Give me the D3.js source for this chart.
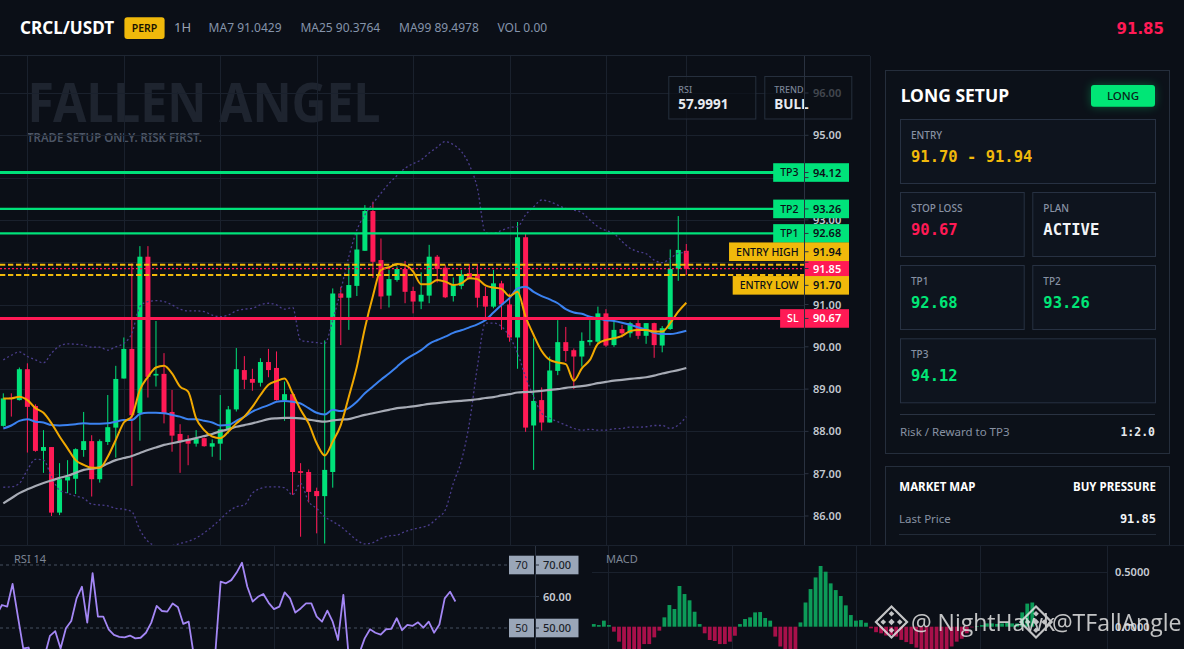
<!DOCTYPE html>
<html><head><meta charset="utf-8">
<script src="https://cdnjs.cloudflare.com/ajax/libs/d3/7.8.5/d3.min.js"></script>
<style>
html,body{margin:0;padding:0;background:#0b0f17;overflow:hidden}
svg{display:block;font-family:"Noto Sans","Open Sans",sans-serif}
</style></head><body>
<svg id="c" width="1184" height="649"></svg>
<script>
// ---------------- DATA ----------------
const symbol = "CRCL/USDT";
const headerStats = ["MA7 91.0429","MA25 90.3764","MA99 89.4978","VOL 0.00"];
const lastPrice = 91.85;
const rsiNow = "57.9991";
const trendNow = "BULL";

const candleOpen  = [88.13,88.80,88.74,89.47,88.60,87.54,87.63,86.08,86.84,86.88,
  87.56,87.77,86.87,87.75,88.09,89.25,89.95,88.43,92.13,89.32,
  89.36,88.46,87.94,87.81,87.71,87.84,87.64,87.71,88.03,88.52,
  89.45,89.24,89.15,89.64,89.50,88.74,88.88,87.06,87.04,86.59,
  86.47,87.04,91.26,91.16,91.44,92.27,93.21,92.05,91.21,91.58,
  91.84,91.32,91.07,91.21,92.13,91.87,91.20,91.44,91.74,91.72,
  91.20,90.95,91.50,91.00,90.22,92.59,88.14,88.74,88.21,89.43,
  90.11,89.92,89.77,90.11,90.12,90.79,90.04,90.42,90.32,90.56,
  90.26,90.56,90.03,90.42,91.84,92.27];
const candleClose = [88.78,88.77,89.47,88.58,87.54,87.63,86.08,86.87,86.93,87.58,
  87.77,86.87,87.77,88.10,89.24,89.95,88.38,92.13,89.29,89.36,
  88.43,87.90,87.77,87.71,87.83,87.65,87.72,88.05,88.52,89.47,
  89.22,89.15,89.64,89.45,88.74,88.88,87.04,87.02,86.57,86.47,
  87.09,91.26,91.16,91.46,92.30,93.21,92.01,91.19,91.60,91.84,
  91.30,91.07,91.23,92.13,91.84,91.17,91.46,91.71,91.62,91.16,
  90.95,91.50,91.00,90.22,92.59,88.09,88.72,88.21,89.44,90.11,
  89.90,89.77,90.14,90.16,90.79,90.03,90.40,90.32,90.56,90.26,
  90.56,90.04,90.44,91.84,92.29,91.84];
const candleHigh  = [88.90,88.90,89.51,89.61,88.64,88.03,87.63,87.25,87.32,87.60,
  88.46,87.91,87.81,88.86,89.55,90.22,91.97,92.38,92.38,90.61,
  89.85,88.98,88.17,87.91,88.03,87.86,87.81,88.86,88.60,89.97,
  89.78,89.48,89.73,89.95,89.89,89.18,88.88,87.25,87.10,86.67,
  90.15,91.38,91.42,91.96,92.67,93.35,93.43,92.56,91.82,91.90,
  92.03,91.42,91.76,92.41,92.17,91.93,91.64,91.82,91.96,91.96,
  91.42,91.82,91.56,91.26,92.95,92.68,90.20,89.04,89.77,90.63,
  90.47,89.96,90.34,90.63,90.95,90.89,90.63,90.52,90.59,90.63,
  90.56,90.57,90.49,92.30,93.09,92.43];
const candleLow   = [88.11,88.35,88.73,87.50,87.52,87.02,86.00,86.02,86.54,86.52,
  87.40,86.46,86.79,87.68,87.38,89.25,86.71,87.78,88.80,89.06,
  88.19,87.52,87.02,87.20,87.64,87.64,87.40,87.32,87.95,88.47,
  89.00,88.96,89.06,89.28,88.73,88.25,86.50,85.51,86.32,85.59,
  85.35,86.67,90.04,90.40,91.20,92.27,91.63,90.89,90.93,91.54,
  91.03,90.79,90.89,91.03,91.52,91.15,91.07,91.36,91.60,90.93,
  90.67,90.91,90.40,90.12,89.48,87.99,87.09,88.02,88.21,89.33,
  89.65,89.00,89.53,90.03,90.08,90.00,90.00,90.22,90.22,90.18,
  90.07,89.74,89.87,90.40,91.56,91.70];

const ma7 = [88.78,88.78,88.82,88.74,88.55,88.44,88.19,87.88,87.60,87.32,
  87.21,87.14,87.14,87.40,87.80,88.21,88.36,88.98,89.29,89.51,
  89.55,89.37,89.06,88.94,88.31,88.03,87.88,87.84,87.99,88.19,
  88.35,88.58,88.86,89.10,89.19,89.25,88.90,88.51,88.19,87.72,
  87.43,87.76,88.15,88.82,89.53,90.44,91.20,91.82,91.88,91.96,
  91.93,91.78,91.48,91.48,91.58,91.54,91.46,91.50,91.62,91.60,
  91.45,91.40,91.37,91.20,91.30,90.71,90.28,89.90,89.69,89.63,
  89.59,89.20,89.49,89.69,90.07,90.16,90.20,90.26,90.37,90.40,
  90.40,90.36,90.36,90.56,90.83,91.04];
const ma25 = [88.07,88.14,88.25,88.29,88.23,88.21,88.15,88.14,88.15,88.17,
  88.19,88.18,88.18,88.19,88.23,88.27,88.27,88.41,88.44,88.44,
  88.43,88.39,88.35,88.29,88.29,88.25,88.21,88.14,88.15,88.25,
  88.35,88.47,88.55,88.62,88.70,88.72,88.70,88.66,88.55,88.44,
  88.40,88.51,88.48,88.55,88.70,88.90,89.06,89.22,89.37,89.53,
  89.69,89.81,89.92,90.07,90.16,90.24,90.33,90.39,90.46,90.53,
  90.63,90.81,90.99,91.15,91.38,91.42,91.30,91.20,91.12,91.03,
  90.89,90.81,90.78,90.71,90.67,90.63,90.61,90.57,90.52,90.46,
  90.41,90.33,90.30,90.30,90.33,90.38];
const ma99 = [86.30,86.42,86.54,86.63,86.71,86.78,86.84,86.90,86.95,87.02,
  87.09,87.12,87.15,87.24,87.32,87.37,87.42,87.49,87.56,87.62,
  87.68,87.72,87.76,87.80,87.84,87.89,87.94,88.00,88.05,88.11,
  88.15,88.19,88.24,88.29,88.31,88.32,88.32,88.31,88.28,88.25,
  88.23,88.26,88.28,88.29,88.34,88.39,88.43,88.47,88.51,88.55,
  88.57,88.59,88.62,88.65,88.67,88.69,88.71,88.72,88.74,88.76,
  88.79,88.81,88.85,88.88,88.92,88.93,88.94,88.96,88.98,89.00,
  89.03,89.05,89.07,89.10,89.14,89.17,89.20,89.22,89.24,89.26,
  89.28,89.32,89.37,89.41,89.45,89.50];
const bbUpper = [89.69,89.80,89.88,89.77,89.69,89.62,89.85,90.02,90.07,90.06,
  90.04,89.99,89.99,89.92,90.00,90.08,90.32,90.95,91.07,91.09,
  91.07,90.99,90.89,90.85,90.85,90.83,90.75,90.71,90.75,90.85,
  90.89,90.91,90.99,91.03,90.99,90.89,90.93,90.15,90.12,90.10,
  90.08,90.63,91.34,92.13,92.76,93.12,93.39,93.63,93.86,94.05,
  94.22,94.33,94.42,94.58,94.72,94.85,94.78,94.62,94.30,93.75,
  92.70,92.68,92.75,92.82,92.84,93.12,93.31,93.47,93.43,93.35,
  93.27,93.23,93.17,93.00,92.84,92.75,92.68,92.49,92.33,92.25,
  92.20,92.05,91.99,92.09,92.21,92.23];
const bbLower = [86.68,86.69,86.77,87.09,87.34,87.32,86.93,86.61,86.54,86.47,
  86.42,86.28,86.26,86.24,86.18,86.16,86.10,85.67,85.40,85.30,
  85.28,85.30,85.35,85.40,85.48,85.60,85.75,85.92,86.10,86.22,
  86.26,86.54,86.65,86.69,86.69,86.67,86.50,86.77,86.34,86.18,
  85.98,85.87,85.75,85.59,85.43,85.34,85.37,85.47,85.53,85.55,
  85.63,85.69,85.73,85.79,85.95,86.14,86.77,87.30,88.19,89.53,
  90.56,90.56,90.48,90.24,89.85,89.29,88.82,88.43,88.31,88.23,
  88.15,88.07,88.03,88.05,88.03,88.03,88.06,88.07,88.10,88.10,
  88.11,88.14,88.14,88.07,88.15,88.35];

const priceTicks = [86,87,88,89,90,91,92,93,94,95,96];
const gridCandleIdx = [3,15,27,39,51,63,75,85];

const levelNames  = ["TP3","TP2","TP1","ENTRY HIGH","ENTRY LOW","SL"];
const levelValues = [94.12,93.26,92.68,91.94,91.70,90.67];
const levelKinds  = ["tp","tp","tp","entry","entry","sl"];

const rsiValues = [54.1,57.3,56.8,64.0,53.6,43.5,43.8,38,36,41,
  47.5,49.0,43.5,49.9,52.2,59.4,63.1,51.7,67.4,53.6,
  53.6,49.6,47.8,47.2,47.0,47.6,46.7,46.9,48.5,51.7,
  57.0,55.4,55.2,57.8,56.6,51.3,52.0,41,38,36,
  38,42,64.7,64.2,65.2,67.6,70.7,63.1,58.4,59.9,
  60.8,58.0,56.0,56.8,61.3,59.4,54.9,56.2,57.8,57.8,
  53.6,52.0,55.5,52.0,46.2,60.5,41,38,42,46.7,
  49.6,48.5,47.9,49.6,49.7,53.1,49.3,51.0,50.7,51.8,
  50.1,52.0,48.5,51.1,59.4,61.5,58.4];
const rsiLevels = [70,60,50];
const rsiGridIdx = [52,76];

const macdHist = [0.024,0.015,0.055,0.015,
  -0.045,-0.136,-0.25,-0.26,-0.25,-0.24,-0.158,-0.158,-0.097,-0.036,
  0.085,0.197,0.161,0.37,0.297,0.24,0.136,0.024,
  -0.06,-0.121,-0.13,-0.158,-0.158,-0.136,-0.082,
  0.024,0.07,0.085,0.13,0.133,0.079,0.055,
  -0.09,-0.18,-0.22,-0.24,-0.22,
  0.039,0.22,0.342,0.448,0.552,0.5,0.394,0.333,0.279,0.194,0.106,0.055,0.06,0.036,
  -0.015,-0.05,-0.06,-0.08,-0.076,-0.09,-0.12,-0.14,-0.158,-0.19,-0.21,-0.23,-0.24,-0.24,-0.23,-0.22,-0.18,-0.136,-0.11,-0.06,
  -0.006,0.006,0.015,
  0.03,0.03,0.025,0.03,0.035,0.03,0.03,
  0.13,0.21,0.22];
const macdTicks = [0.5,0];
const macdGridIdx = [2.8,27.4,52,76.6];

const setupCards = [
  {label:"ENTRY", value:"91.70 - 91.94", kind:"entry"},
  {label:"STOP LOSS", value:"90.67", kind:"sl"},
  {label:"PLAN", value:"ACTIVE", kind:"plan"},
  {label:"TP1", value:"92.68", kind:"tp"},
  {label:"TP2", value:"93.26", kind:"tp"},
  {label:"TP3", value:"94.12", kind:"tp"}
];
const riskReward = "1:2.0";
const watermarks = ["@ NightHawk","@TFallAngle"];

// ---------------- STYLE ----------------
const BG="#0b0f17", GRID="#1a212d", GREEN="#00e27a", RED="#ff1a55", YEL="#f0b90b";
const MONO='"DejaVu Sans Mono","Liberation Mono",monospace';
const W=1184, H=649;
const svg=d3.select("#c");
svg.append("rect").attr("width",W).attr("height",H).attr("fill",BG);
const defs=svg.append("defs");
defs.append("clipPath").attr("id","mainClip").append("rect").attr("x",0).attr("y",55).attr("width",804).attr("height",490);
defs.append("clipPath").attr("id","rsiClip").append("rect").attr("x",0).attr("y",546).attr("width",535).attr("height",103);
defs.append("clipPath").attr("id","macdClip").append("rect").attr("x",590).attr("y",546).attr("width",517).attr("height",103);
const glow=defs.append("filter").attr("id","glow").attr("x","-50%").attr("y","-80%").attr("width","200%").attr("height","260%");
glow.append("feGaussianBlur").attr("stdDeviation",5);

function T(g,x,y,s,o){const t=g.append("text").attr("x",x).attr("y",y).text(s);for(const k in o)t.attr(k,o[k]);return t;}

// ---------------- TOP BAR ----------------
const topBar=svg.append("g");
T(topBar,20,34.3,symbol,{fill:"#ffffff","font-size":18,"font-weight":700,textLength:94,lengthAdjust:"spacingAndGlyphs"});
topBar.append("rect").attr("x",124.4).attr("y",17.3).attr("width",40.2).attr("height",21.7).attr("rx",3).attr("fill",YEL);
T(topBar,144.5,31.5,"PERP",{fill:"#1a1400","font-size":10.5,"font-weight":600,"text-anchor":"middle"});
T(topBar,174,31.7,"1H",{fill:"#9aa3b2","font-size":13});
const statX=[208.6,300.4,399,497.5];
headerStats.forEach((s,i)=>T(topBar,statX[i],31.7,s,{fill:"#8594ab","font-size":12}));
T(topBar,1164,34,d3.format(".2f")(lastPrice),{fill:RED,"font-size":15,"font-weight":700,"text-anchor":"end","font-family":'"DejaVu Sans",sans-serif'});
topBar.append("line").attr("x1",0).attr("x2",870).attr("y1",55.5).attr("y2",55.5).attr("stroke","#1e2633");

// ---------------- MAIN CHART ----------------
const xs=d3.scaleLinear().domain([0,85]).range([3.3,686.3]);
const ys=d3.scaleLinear().domain([86,96]).range([516,93]);

const main=svg.append("g");
T(main,27.5,121.7,"FALLEN ANGEL",{fill:"#1e242f","font-size":53,"font-weight":700,textLength:353,lengthAdjust:"spacingAndGlyphs"});
T(main,27,141.7,"TRADE SETUP ONLY. RISK FIRST.",{fill:"#4b5565","font-size":12,"font-weight":600,textLength:175,lengthAdjust:"spacingAndGlyphs"});

main.selectAll(".hg").data(priceTicks).join("line").attr("x1",0).attr("x2",804)
  .attr("y1",d=>Math.round(ys(d))+0.5).attr("y2",d=>Math.round(ys(d))+0.5).attr("stroke",GRID);
main.selectAll(".vg").data(gridCandleIdx).join("line").attr("y1",56).attr("y2",545)
  .attr("x1",d=>Math.round(xs(d))+0.5).attr("x2",d=>Math.round(xs(d))+0.5).attr("stroke",GRID);
main.append("line").attr("x1",870.5).attr("x2",870.5).attr("y1",56).attr("y2",545).attr("stroke",GRID);

const plot=svg.append("g").attr("clip-path","url(#mainClip)");
const idx=d3.range(candleOpen.length);
plot.selectAll(".wick").data(idx).join("line")
  .attr("x1",i=>xs(i)).attr("x2",i=>xs(i))
  .attr("y1",i=>ys(candleHigh[i])).attr("y2",i=>ys(candleLow[i]))
  .attr("stroke",i=>candleClose[i]>=candleOpen[i]?GREEN:RED).attr("stroke-width",1);
plot.selectAll(".body").data(idx).join("rect")
  .attr("x",i=>xs(i)-2.5).attr("width",5)
  .attr("y",i=>ys(Math.max(candleOpen[i],candleClose[i])))
  .attr("height",i=>Math.max(1.2,Math.abs(ys(candleOpen[i])-ys(candleClose[i]))))
  .attr("fill",i=>candleClose[i]>=candleOpen[i]?GREEN:RED);

const ln=d3.line().x((d,i)=>xs(i)).y(d=>ys(d)).curve(d3.curveMonotoneX);
[[bbUpper,"#4a3d8c",1.3,"2,2.5"],[bbLower,"#4a3d8c",1.3,"2,2.5"],
 [ma99,"#a7abb5",2.2,null],[ma25,"#3b82f0",2,null],[ma7,"#f0a800",2,null]].forEach(([arr,c,w,dash])=>{
  const p=plot.append("path").attr("d",ln(arr)).attr("fill","none").attr("stroke",c).attr("stroke-width",w);
  if(dash)p.attr("stroke-dasharray",dash);
});

// level lines
const lv=svg.append("g");
levelValues.forEach((v,i)=>{
  const k=levelKinds[i], y=ys(v);
  const l=lv.append("line").attr("x1",0).attr("x2",804).attr("y1",y).attr("y2",y);
  if(k==="tp") l.attr("stroke",GREEN).attr("stroke-width",levelNames[i]==="TP3"?3:2.2);
  else if(k==="entry") l.attr("stroke",YEL).attr("stroke-width",2).attr("stroke-dasharray","5.3,2.7");
  else l.attr("stroke",RED).attr("stroke-width",3);
});
lv.append("line").attr("x1",0).attr("x2",804).attr("y1",ys(lastPrice)).attr("y2",ys(lastPrice))
  .attr("stroke",RED).attr("stroke-width",1.3).attr("stroke-dasharray","2,2");

// price label layout around current price
const BH=18.6, GAP=16.8;
const lbl=levelNames.map((n,i)=>({name:n,value:levelValues[i],kind:levelKinds[i],y:ys(levelValues[i])}));
const yc=ys(lastPrice);
let bound=yc;
lbl.filter(d=>d.value>lastPrice).sort((a,b)=>b.y-a.y).forEach(d=>{d.cy=Math.min(d.y,bound-GAP);bound=d.cy;});
bound=yc;
lbl.filter(d=>d.value<lastPrice).sort((a,b)=>a.y-b.y).forEach(d=>{d.cy=Math.max(d.y,bound+GAP);bound=d.cy;});
const boxCenters=lbl.map(d=>d.cy).concat([yc]);

// axis tick labels (skip those hidden beneath a label box)
const ax=svg.append("g");
const visibleTicks=priceTicks.filter(t=>boxCenters.every(c=>Math.abs(ys(t)-c)>8));
ax.selectAll(".tl").data(visibleTicks).join("text").attr("x",813).attr("y",d=>ys(d)+4)
  .attr("fill","#c3c8d0").attr("font-size",11).attr("font-weight",600).text(d=>d3.format(".2f")(d));

// info boxes RSI / TREND
[[668.3,"RSI",rsiNow],[764.3,"TREND",trendNow]].forEach(([x,a,b])=>{
  ax.append("rect").attr("x",x+0.5).attr("y",76.5).attr("width",87).attr("height",42.5)
    .attr("fill","rgba(11,15,23,0.7)").attr("stroke","#262f3d");
  T(ax,x+10,92.5,a,{fill:"#7a8496","font-size":9,"font-weight":500});
  T(ax,x+10,109,b,{fill:"#e8ebf0","font-size":13.5,"font-weight":700});
});

const lg=svg.append("g");
lg.append("rect").attr("x",804).attr("y",yc-BH/2).attr("width",45).attr("height",BH).attr("fill",RED);
T(lg,813,yc+4,d3.format(".2f")(lastPrice),{fill:"#ffffff","font-size":11,"font-weight":600});
lbl.forEach(d=>{
  const col=d.kind==="tp"?GREEN:d.kind==="entry"?YEL:RED;
  const tc=d.kind==="sl"?"#ffffff":"#0b0f17";
  const g=lg.append("g");
  const r=g.append("rect");
  const t=T(g,798.5,d.cy+3.8,d.name,{fill:tc,"font-size":10.5,"font-weight":500,"text-anchor":"end"});
  const w=t.node().getComputedTextLength();
  r.attr("x",798.5-w-7).attr("y",d.cy-BH/2).attr("width",w+7+50.5).attr("height",BH).attr("fill",col);
  T(g,813,d.cy+4,d3.format(".2f")(d.value),{fill:tc,"font-size":11,"font-weight":600});
});
lg.append("line").attr("x1",804.5).attr("x2",804.5).attr("y1",56).attr("y2",545).attr("stroke","#2a3240");
lg.selectAll(".tk").data(priceTicks.map(d=>ys(d)).concat(boxCenters)).join("line")
  .attr("x1",804).attr("x2",808.5).attr("y1",d=>d).attr("y2",d=>d).attr("stroke","#2a3240");

// ---------------- RIGHT PANEL ----------------
const rp=svg.append("g");
rp.append("rect").attr("x",885.5).attr("y",70.5).attr("width",284).attr("height",383).attr("fill","#0c1119").attr("stroke","#252e3c");
T(rp,900.7,102.3,"LONG SETUP",{fill:"#ffffff","font-size":17.5,"font-weight":700});
rp.append("rect").attr("x",1091).attr("y",85).attr("width",64).attr("height",21.7).attr("rx",3).attr("fill","#00e676").attr("opacity",0.35).attr("filter","url(#glow)");
rp.append("rect").attr("x",1091).attr("y",85).attr("width",64).attr("height",21.7).attr("rx",3).attr("fill","#00e676");
T(rp,1123,99.7,"LONG",{fill:"#08261a","font-size":11.5,"font-weight":500,"text-anchor":"middle"});
const boxGeo=[[900,119,255],[900,192,123.7],[1032.3,192,122.7],[900,265,123.7],[1032.3,265,122.7],[900,338.3,255]];
setupCards.forEach((c,i)=>{
  const [x,y,w]=boxGeo[i];
  rp.append("rect").attr("x",x+0.5).attr("y",y+0.5).attr("width",w).attr("height",64).attr("fill","#0e141e").attr("stroke","#273142");
  T(rp,x+11,y+20,c.label,{fill:"#8791a3","font-size":10,"font-weight":500});
  const col=c.kind==="entry"?YEL:c.kind==="sl"?RED:c.kind==="tp"?"#00e676":"#f2f4f7";
  T(rp,x+11,y+42.5,c.value,{fill:col,"font-size":15.5,"font-weight":700,"font-family":MONO});
});
rp.append("line").attr("x1",900).attr("x2",1155).attr("y1",414.5).attr("y2",414.5).attr("stroke","#2a3342");
T(rp,900,435.7,"Risk / Reward to TP3",{fill:"#8791a3","font-size":11.5});
T(rp,1155,436,riskReward,{fill:"#e6e9ee","font-size":11.5,"font-weight":700,"text-anchor":"end","font-family":MONO});

rp.append("rect").attr("x",885.5).attr("y",466.5).attr("width",284).attr("height",110).attr("fill","#0c1119").attr("stroke","#252e3c");
T(rp,899.3,491,"MARKET MAP",{fill:"#ffffff","font-size":11.5,"font-weight":700});
T(rp,1156,491,"BUY PRESSURE",{fill:"#ffffff","font-size":11.5,"font-weight":700,"text-anchor":"end"});
T(rp,899,523.3,"Last Price",{fill:"#8791a3","font-size":11.5});
T(rp,1156,523.3,d3.format(".2f")(lastPrice),{fill:"#f2f4f7","font-size":12,"font-weight":700,"text-anchor":"end","font-family":MONO});
rp.append("line").attr("x1",899).attr("x2",1156).attr("y1",534.5).attr("y2",534.5).attr("stroke","#222b38");

// ---------------- BOTTOM PANELS ----------------
const bp=svg.append("g");
bp.append("rect").attr("x",0).attr("y",545).attr("width",W).attr("height",104).attr("fill",BG);
bp.append("line").attr("x1",0).attr("x2",W).attr("y1",545.5).attr("y2",545.5).attr("stroke",GRID);

// RSI
const rx=d3.scaleLinear().domain([1,86]).range([1.9,455.4]);
const ry=d3.scaleLinear().domain([50,70]).range([628,565]);
bp.selectAll(".rvg").data(rsiGridIdx).join("line").attr("x1",d=>Math.round(rx(d))+0.5).attr("x2",d=>Math.round(rx(d))+0.5)
  .attr("y1",546).attr("y2",649).attr("stroke",GRID);
rsiLevels.forEach(v=>{
  const l=bp.append("line").attr("x1",0).attr("y1",ry(v)).attr("y2",ry(v));
  if(v===60) l.attr("x2",535).attr("stroke",GRID);
  else l.attr("x2",509).attr("stroke","#465061").attr("stroke-dasharray","3,3");
});
T(bp,14,563,"RSI 14",{fill:"#7d8696","font-size":11});
bp.append("path").attr("clip-path","url(#rsiClip)")
  .attr("d",d3.line().x((d,i)=>rx(i)).y(d=>ry(d))(rsiValues))
  .attr("fill","none").attr("stroke","#a487f5").attr("stroke-width",1.8).attr("stroke-linejoin","round");
bp.append("line").attr("x1",535.5).attr("x2",535.5).attr("y1",546).attr("y2",649).attr("stroke","#2a3240");
rsiLevels.forEach(v=>{
  const y=ry(v);
  if(v!==60){
    bp.append("rect").attr("x",509).attr("y",y-9.3).attr("width",25).attr("height",18.6).attr("fill","#9aa6b8");
    T(bp,521.5,y+4,String(v),{fill:"#1a1f29","font-size":11,"text-anchor":"middle"});
    bp.append("rect").attr("x",536).attr("y",y-9.3).attr("width",42.5).attr("height",18.6).attr("fill","#9aa6b8");
    T(bp,543,y+4,d3.format(".2f")(v),{fill:"#1a1f29","font-size":11,"font-weight":500});
  } else {
    T(bp,543,y+4,d3.format(".2f")(v),{fill:"#c8ccd4","font-size":11,"font-weight":600});
  }
  bp.append("line").attr("x1",535).attr("x2",539).attr("y1",y).attr("y2",y).attr("stroke","#2a3240");
});

// MACD
const mx=d3.scaleLinear().domain([0,87]).range([593.8,1032.3]);
const my=d3.scaleLinear().domain([0,0.5]).range([626.7,571.7]);
bp.selectAll(".mvg").data(macdGridIdx).join("line").attr("x1",d=>Math.round(mx(d))+0.5).attr("x2",d=>Math.round(mx(d))+0.5)
  .attr("y1",546).attr("y2",649).attr("stroke",GRID);
bp.append("line").attr("x1",592).attr("x2",1107).attr("y1",Math.round(my(0.5))+0.5).attr("y2",Math.round(my(0.5))+0.5).attr("stroke",GRID);
bp.append("line").attr("x1",1107.5).attr("x2",1107.5).attr("y1",546).attr("y2",649).attr("stroke",GRID);
T(bp,606,563,"MACD",{fill:"#7d8696","font-size":11});
bp.append("g").attr("clip-path","url(#macdClip)").selectAll("rect").data(macdHist).join("rect")
  .attr("x",(d,i)=>mx(i)-1.9).attr("width",3.8)
  .attr("y",d=>d>=0?my(d):my(0)).attr("height",d=>Math.abs(my(d)-my(0)))
  .attr("fill",d=>d>=0?"#0c9b58":"#a8104a");
macdTicks.forEach(v=>T(bp,1115,my(v)+4,d3.format(".4f")(v),{fill:"#c8ccd4","font-size":11,"font-weight":600}));

// watermark
const wm=svg.append("g").attr("fill","#e4e4e4").attr("opacity",0.85);
[[891.5,911],[1036,1052]].forEach(([cx,tx],i)=>{
  const g=wm.append("g").attr("transform",`translate(${cx},622) rotate(45)`);
  [[0,0,4.5],[-7,-7,4],[7,7,4],[-7,7,4],[7,-7,4]].forEach(([a,b,s])=>{
    g.append("rect").attr("x",a/1.2-s/2).attr("y",b/1.2-s/2).attr("width",s).attr("height",s);
  });
  g.append("rect").attr("x",-11).attr("y",-11).attr("width",22).attr("height",22).attr("fill","none").attr("stroke","#e4e4e4").attr("stroke-width",2.2);
  T(wm,tx,631,watermarks[i],{"font-size":23,"font-family":'"Open Sans","Noto Sans",sans-serif'});
});
</script>
</body></html>
